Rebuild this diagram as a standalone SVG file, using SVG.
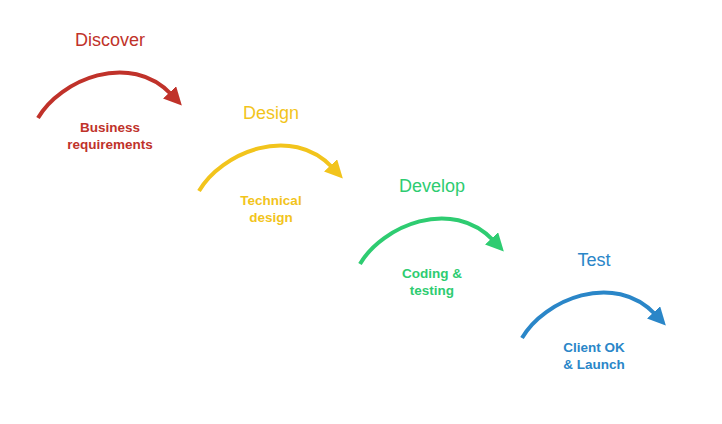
<svg xmlns="http://www.w3.org/2000/svg" width="722" height="424" viewBox="0 0 722 424">
<style>
.t{font-family:"Liberation Sans",Arial,sans-serif;font-size:18px;text-anchor:middle}
.s{font-family:"Liberation Sans",Arial,sans-serif;font-size:13.5px;font-weight:bold;text-anchor:middle}
.a{fill:none;stroke-width:4}
</style>
<defs>
<marker id="m1" viewBox="0 0 10 10" refX="2" refY="5" markerWidth="4.5" markerHeight="4.5" orient="auto" markerUnits="strokeWidth"><path d="M0,0L10,5L0,10z" fill="#C0322A"/></marker>
<marker id="m2" viewBox="0 0 10 10" refX="2" refY="5" markerWidth="4.5" markerHeight="4.5" orient="auto" markerUnits="strokeWidth"><path d="M0,0L10,5L0,10z" fill="#F2C41C"/></marker>
<marker id="m3" viewBox="0 0 10 10" refX="2" refY="5" markerWidth="4.5" markerHeight="4.5" orient="auto" markerUnits="strokeWidth"><path d="M0,0L10,5L0,10z" fill="#2ECC71"/></marker>
<marker id="m4" viewBox="0 0 10 10" refX="2" refY="5" markerWidth="4.5" markerHeight="4.5" orient="auto" markerUnits="strokeWidth"><path d="M0,0L10,5L0,10z" fill="#2A86C8"/></marker>
</defs>
<rect width="722" height="424" fill="#fff"/>
<g id="connectors">
<path class="a" stroke="#C0322A" marker-end="url(#m1)" d="M38,118 C60,80 130,50 172,95"/>
<path class="a" stroke="#F2C41C" marker-end="url(#m2)" d="M199,191 C221,153 291,123 333,168"/>
<path class="a" stroke="#2ECC71" marker-end="url(#m3)" d="M360,264 C382,226 452,196 494,241"/>
<path class="a" stroke="#2A86C8" marker-end="url(#m4)" d="M522,338 C544,300 614,270 656,315"/>
</g>
<g id="discover" fill="#C0322A"><text class="t" x="110" y="46">Discover</text><text class="s" x="110" y="132">Business</text><text class="s" x="110" y="149">requirements</text></g>
<g id="design" fill="#F2C41C"><text class="t" x="271" y="119">Design</text><text class="s" x="271" y="205">Technical</text><text class="s" x="271" y="222">design</text></g>
<g id="develop" fill="#2ECC71"><text class="t" x="432" y="192">Develop</text><text class="s" x="432" y="278">Coding &amp;</text><text class="s" x="432" y="295">testing</text></g>
<g id="test" fill="#2A86C8"><text class="t" x="594" y="266">Test</text><text class="s" x="594" y="352">Client OK</text><text class="s" x="594" y="369">&amp; Launch</text></g>
</svg>
